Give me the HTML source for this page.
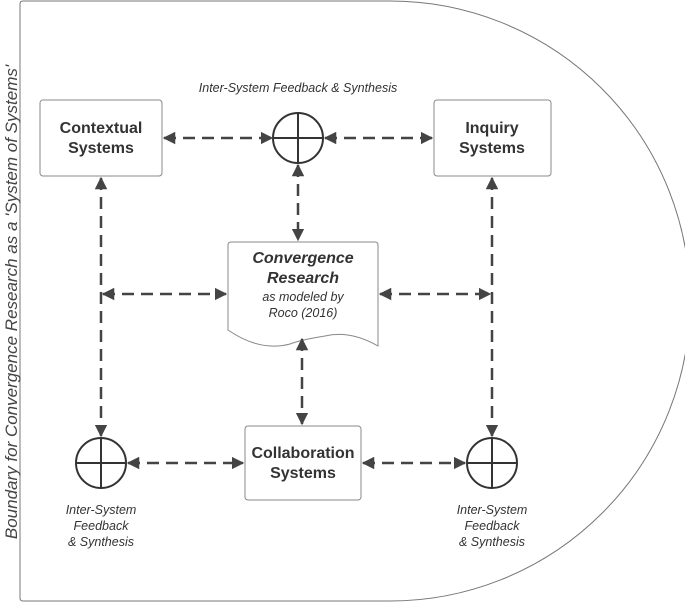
<!DOCTYPE html>
<html><head><meta charset="utf-8"><style>
html,body{margin:0;padding:0;background:#fff;}
svg{display:block;}
text{font-family:"Liberation Sans",sans-serif;fill:#333;}
</style></head><body>
<svg width="685" height="602" viewBox="0 0 685 602" xmlns="http://www.w3.org/2000/svg">
<defs>
<marker id="a" viewBox="0 0 10 10" refX="9" refY="5" markerWidth="5" markerHeight="5" orient="auto-start-reverse"><path d="M0,0 L10,5 L0,10 z" fill="#444"/></marker>
</defs>
<path d="M23,1 L390,1 A300,300 0 0 1 390,601 L23,601 Q20,601 20,598 L20,4 Q20,1 23,1 Z" fill="none" stroke="#777" stroke-width="1"/>
<text transform="translate(17,302) rotate(-90)" text-anchor="middle" font-size="17" font-style="italic" style="fill:#444">Boundary for Convergence Research as a 'System of Systems'</text>

<g fill="#fff" stroke="#888" stroke-width="1">
<rect x="40" y="100" width="122" height="76" rx="3"/>
<rect x="434" y="100" width="117" height="76" rx="3"/>
<rect x="245" y="426" width="116" height="74" rx="3"/>
<path d="M231,242 L375,242 Q378,242 378,245 L378,346 Q350,330 325,336 Q300,340 290,344 Q260,352 228,330 L228,245 Q228,242 231,242 Z"/>
</g>
<g fill="none" stroke="#333" stroke-width="2">
<ellipse cx="298" cy="138" rx="25" ry="25"/><path d="M273,138 H323 M298,113 V163"/>
<ellipse cx="101" cy="463" rx="25" ry="25"/><path d="M76,463 H126 M101,438 V488"/>
<ellipse cx="492" cy="463" rx="25" ry="25"/><path d="M467,463 H517 M492,438 V488"/>
</g>
<g fill="none" stroke="#444" stroke-width="2.5" stroke-dasharray="12,7" marker-start="url(#a)" marker-end="url(#a)">
<path d="M164,138 H272"/>
<path d="M325,138 H432"/>
<path d="M298,165 V240"/>
<path d="M101,178 V436"/>
<path d="M492,178 V436"/>
<path d="M103,294 H226"/>
<path d="M380,294 H490"/>
<path d="M302,339 V424"/>
<path d="M128,463 H243"/>
<path d="M363,463 H465"/>
</g>
<g text-anchor="middle">
<text x="298" y="92" font-size="12.5" font-style="italic">Inter-System Feedback &amp; Synthesis</text>
<text x="101" y="133" font-size="16" font-weight="bold">Contextual</text>
<text x="101" y="153" font-size="16" font-weight="bold">Systems</text>
<text x="492" y="133" font-size="16" font-weight="bold">Inquiry</text>
<text x="492" y="153" font-size="16" font-weight="bold">Systems</text>
<text x="303" y="263" font-size="16" font-weight="bold" font-style="italic">Convergence</text>
<text x="303" y="283" font-size="16" font-weight="bold" font-style="italic">Research</text>
<text x="303" y="301" font-size="12.5" font-style="italic">as modeled by</text>
<text x="303" y="317" font-size="12.5" font-style="italic">Roco (2016)</text>
<text x="303" y="458" font-size="16" font-weight="bold">Collaboration</text>
<text x="303" y="478" font-size="16" font-weight="bold">Systems</text>
<text x="101" y="514" font-size="12.5" font-style="italic">Inter-System</text>
<text x="101" y="530" font-size="12.5" font-style="italic">Feedback</text>
<text x="101" y="546" font-size="12.5" font-style="italic">&amp; Synthesis</text>
<text x="492" y="514" font-size="12.5" font-style="italic">Inter-System</text>
<text x="492" y="530" font-size="12.5" font-style="italic">Feedback</text>
<text x="492" y="546" font-size="12.5" font-style="italic">&amp; Synthesis</text>
</g>
</svg>
</body></html>
